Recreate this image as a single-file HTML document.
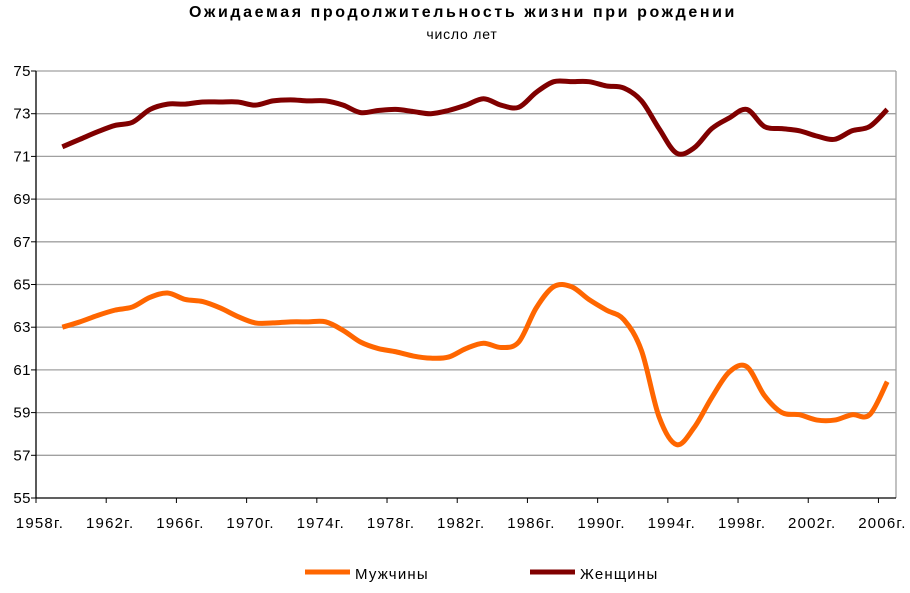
<!DOCTYPE html>
<html><head><meta charset="utf-8"><style>
body{margin:0;background:#fff;width:910px;height:588px;overflow:hidden;font-family:"Liberation Sans",sans-serif}
svg text{font-family:"Liberation Sans",sans-serif}
</style></head><body>
<svg id="chart" width="910" height="588" xmlns="http://www.w3.org/2000/svg">
<text x="463" y="17" text-anchor="middle" font-size="16" font-weight="bold" letter-spacing="2.6" fill="#000">Ожидаемая продолжительность жизни при рождении</text>
<text x="462" y="39" text-anchor="middle" font-size="14" letter-spacing="0.8" fill="#000">число лет</text>
<g id="grid"></g>
<g id="axes"></g>
<g id="series"></g>
<g>
<g><line x1="305" y1="572" x2="350" y2="572" stroke="#ff6600" stroke-width="5"/><text x="355" y="579" font-size="15" letter-spacing="1.2" fill="#000">Мужчины</text></g>
<g><line x1="530" y1="572" x2="575" y2="572" stroke="#800000" stroke-width="5"/><text x="580" y="579" font-size="15" letter-spacing="1.2" fill="#000">Женщины</text></g>
</g>
</svg>
<script>
const years=[1959,1960,1961,1962,1963,1964,1965,1966,1967,1968,1969,1970,1971,1972,1973,1974,1975,1976,1977,1978,1979,1980,1981,1982,1983,1984,1985,1986,1987,1988,1989,1990,1991,1992,1993,1994,1995,1996,1997,1998,1999,2000,2001,2002,2003,2004,2005,2006];
const women=[71.45,71.8,72.15,72.45,72.6,73.2,73.45,73.45,73.55,73.55,73.55,73.4,73.6,73.65,73.6,73.6,73.4,73.05,73.15,73.2,73.1,73.0,73.15,73.4,73.7,73.4,73.3,74.0,74.5,74.5,74.5,74.3,74.2,73.6,72.3,71.15,71.4,72.3,72.8,73.2,72.4,72.3,72.2,71.95,71.8,72.2,72.4,73.2];
const men=[63.0,63.25,63.55,63.8,63.95,64.4,64.6,64.3,64.2,63.9,63.5,63.2,63.2,63.25,63.25,63.25,62.85,62.3,62.0,61.85,61.65,61.55,61.6,62.0,62.25,62.05,62.3,63.9,64.9,64.9,64.3,63.8,63.35,61.9,58.8,57.5,58.3,59.7,60.9,61.15,59.8,59.0,58.9,58.65,58.65,58.9,58.9,60.45];
const yTicks=[55,57,59,61,63,65,67,69,71,73,75];
const xTickYears=[1958,1962,1966,1970,1974,1978,1982,1986,1990,1994,1998,2002,2006];

const L=36,R=896,T=71,B=498,firstYear=1958,nCat=49,yMin=55,yMax=75;
const cw=(R-L)/nCat;
const xPos=y=>L+cw*(y-firstYear+0.5);
const xTick=y=>L+cw*(y-firstYear);
const yPos=v=>B-(v-yMin)/(yMax-yMin)*(B-T);
const NS="http://www.w3.org/2000/svg";
function mk(tag,attrs,parent){const e=document.createElementNS(NS,tag);for(const k in attrs)e.setAttribute(k,attrs[k]);parent.appendChild(e);return e;}
const grid=document.getElementById('grid'),axes=document.getElementById('axes'),series=document.getElementById('series');
yTicks.forEach(v=>{
  const y=yPos(v);
  if(v>yMin){const g=mk('line',{x1:L,x2:R,y1:y,y2:y,stroke:'#a0a0a0','stroke-width':1.3},grid);
  
  }
  mk('line',{x1:L-5,x2:L,y1:y,y2:y,stroke:'#000'},axes);
  const t=mk('text',{x:31,y:y+5,'text-anchor':'end','font-size':15,'letter-spacing':0.5,fill:'#000'},axes);
  t.textContent=v;
  
  
});
mk('line',{x1:R,x2:R,y1:T,y2:B,stroke:'#a0a0a0','stroke-width':1.3},grid);
mk('line',{x1:L,x2:L,y1:T,y2:B,stroke:'#000','stroke-width':1.3},axes);
mk('line',{x1:L,x2:R,y1:B,y2:B,stroke:'#000','stroke-width':1.3},axes);
xTickYears.forEach(yr=>{
  const x=xTick(yr);
  mk('line',{x1:x,x2:x,y1:B,y2:B+5,stroke:'#000'},axes);
  const t=mk('text',{x:x+4,y:528,'text-anchor':'middle','font-size':15,'letter-spacing':1.2,fill:'#000'},axes);
  t.textContent=yr+'г.';
  
  
});
function smooth(vals){
  const p=vals.map((v,i)=>[xPos(years[i]),yPos(v)]);
  let d='M'+p[0][0]+','+p[0][1];
  for(let i=0;i<p.length-1;i++){
    const p0=p[Math.max(i-1,0)],p1=p[i],p2=p[i+1],p3=p[Math.min(i+2,p.length-1)];
    const c1=[p1[0]+(p2[0]-p0[0])/6,p1[1]+(p2[1]-p0[1])/6];
    const c2=[p2[0]-(p3[0]-p1[0])/6,p2[1]-(p3[1]-p1[1])/6];
    d+=' C'+c1[0]+','+c1[1]+' '+c2[0]+','+c2[1]+' '+p2[0]+','+p2[1];
  }
  return d;
}
const pw=mk('path',{d:smooth(women),fill:'none',stroke:'#800000','stroke-width':5,'stroke-linejoin':'round'},series);


const pm=mk('path',{d:smooth(men),fill:'none',stroke:'#ff6600','stroke-width':5,'stroke-linejoin':'round'},series);


</script>
</body></html>
